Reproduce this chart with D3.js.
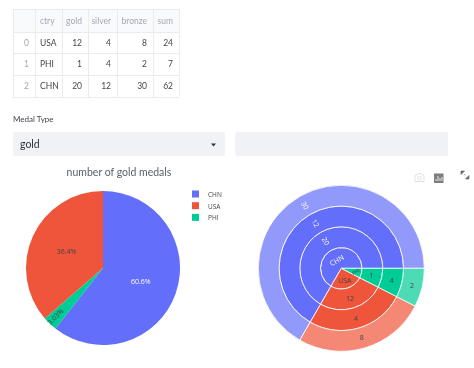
<!DOCTYPE html>
<html>
<head>
<meta charset="utf-8">
<script src="https://cdn.jsdelivr.net/npm/d3@7/dist/d3.min.js"></script>
<style>
  html, body { margin: 0; padding: 0; background: #fff; }
  svg { display: block; filter: blur(0.35px); }
  text { font-family: Lato, sans-serif; }
  .plotly text { font-family: "Open Sans", sans-serif; }
</style>
</head>
<body>
<div id="chart"></div>
<script>
  // table data
  const columns = ['', 'ctry', 'gold', 'silver', 'bronze', 'sum'];
  const rowIndex = [0, 1, 2];
  const countries = ['USA', 'PHI', 'CHN'];
  const gold = [12, 1, 20];
  const silver = [4, 4, 12];
  const bronze = [8, 2, 30];
  const sum = [24, 7, 62];

  // drawing order of the charts
  const pieOrder = ['CHN', 'PHI', 'USA'];
  const legendOrder = ['CHN', 'USA', 'PHI'];
  const sunburstOrder = ['CHN', 'USA', 'PHI'];
  const pieLabels = ['60.6%', '3.03%', '36.4%'];

  const color = d3.scaleOrdinal()
    .domain(['CHN', 'USA', 'PHI'])
    .range(['#636efa', '#ef553b', '#00cc96']);

  const svg = d3.select('#chart').append('svg')
    .attr('width', 474)
    .attr('height', 368);

  let valueOf = (list, ctry) => list[countries.indexOf(ctry)];

  // table
  let colEdges = [13, 35, 62, 88, 117, 153, 179];
  let rowEdges = [9, 32, 53, 75, 97];
  let table = svg.append('g');

  table.append('rect')
    .attr('x', colEdges[0]).attr('y', rowEdges[0])
    .attr('width', colEdges[6] - colEdges[0]).attr('height', rowEdges[1] - rowEdges[0])
    .attr('fill', '#f9fafb');

  colEdges.forEach((x) => {
    table.append('line').attr('x1', x + 0.5).attr('x2', x + 0.5)
      .attr('y1', rowEdges[0]).attr('y2', rowEdges[4])
      .attr('stroke', '#e9ebef');
  });
  rowEdges.forEach((y) => {
    table.append('line').attr('y1', y + 0.5).attr('y2', y + 0.5)
      .attr('x1', colEdges[0]).attr('x2', colEdges[6])
      .attr('stroke', '#e9ebef');
  });

  columns.forEach((name, i) => {
    if (!name) return;
    table.append('text')
      .attr('x', i === 1 ? colEdges[1] + 5 : colEdges[i + 1] - 6)
      .attr('y', 24)
      .attr('text-anchor', i === 1 ? 'start' : 'end')
      .attr('font-size', 8.5)
      .attr('fill', '#a3a8b4')
      .text(name);
  });

  rowIndex.forEach((idx, r) => {
    let y = (rowEdges[r + 1] + rowEdges[r + 2]) / 2 + 3;
    let cells = [idx, countries[r], gold[r], silver[r], bronze[r], sum[r]];
    cells.forEach((cell, i) => {
      table.append('text')
        .attr('x', i === 1 ? colEdges[1] + 5 : colEdges[i + 1] - 6)
        .attr('y', y)
        .attr('text-anchor', i === 1 ? 'start' : 'end')
        .attr('font-size', 8.5)
        .attr('fill', i === 0 ? '#a3a8b4' : '#44464f')
        .text(cell);
    });
  });

  // select boxes
  svg.append('text')
    .attr('x', 13).attr('y', 122)
    .attr('font-size', 8)
    .attr('fill', '#44464f')
    .text('Medal Type');
  svg.append('rect')
    .attr('x', 13).attr('y', 132).attr('width', 212).attr('height', 24)
    .attr('rx', 2).attr('fill', '#f0f2f6');
  svg.append('rect')
    .attr('x', 235).attr('y', 132).attr('width', 213).attr('height', 24)
    .attr('rx', 2).attr('fill', '#f0f2f6');
  svg.append('text')
    .attr('x', 20).attr('y', 148)
    .attr('font-size', 10.5)
    .attr('fill', '#31333f')
    .text('gold');
  svg.append('path')
    .attr('d', 'M211,143.5h5l-2.5,3z')
    .attr('fill', '#31333f');

  // pie
  let pieCx = 103, pieCy = 268, pieR = 77;
  svg.append('text')
    .attr('x', 119).attr('y', 176)
    .attr('text-anchor', 'middle')
    .attr('font-size', 10.5)
    .attr('fill', '#5a5f6b')
    .text('number of gold medals');

  let pieGroup = svg.append('g')
    .attr('class', 'plotly')
    .attr('transform', 'translate(' + pieCx + ',' + pieCy + ')');
  let pieArc = d3.arc().innerRadius(0).outerRadius(pieR);
  let pieData = d3.pie().sort(null).value((d) => valueOf(gold, d))(pieOrder);

  pieGroup.selectAll('path')
    .data(pieData)
    .enter()
    .append('path')
    .attr('d', pieArc)
    .attr('fill', (d) => color(d.data));

  pieGroup.selectAll('text')
    .data(pieData)
    .enter()
    .append('text')
    .attr('text-anchor', 'middle')
    .attr('font-size', 7)
    .attr('fill', (d) => d.data === 'CHN' ? '#fff' : '#444')
    .attr('transform', (d) => {
      let mid = (d.startAngle + d.endAngle) / 2;
      let r = d.data === 'PHI' ? pieR * 0.86 : pieR * 0.52;
      let turn = d.data === 'PHI' ? -46 : 0;
      return 'translate(' + (Math.sin(mid) * r) + ',' + (-Math.cos(mid) * r + 2.5) + ') rotate(' + turn + ')';
    })
    .text((d, i) => pieLabels[i]);

  // legend
  let legend = svg.append('g').attr('class', 'plotly').selectAll('g')
    .data(legendOrder)
    .enter()
    .append('g')
    .attr('transform', (d, i) => 'translate(192,' + (190.5 + i * 11.7) + ')');
  legend.append('rect')
    .attr('width', 7).attr('height', 7)
    .attr('fill', (d) => color(d));
  legend.append('text')
    .attr('x', 16).attr('y', 6.5)
    .attr('font-size', 6.5)
    .attr('fill', '#444')
    .text((d) => d);

  // sunburst
  let sunCx = 341.3, sunCy = 268.3;
  let rings = [countries, gold, silver, bronze];
  let radius = d3.scaleLinear().domain([0, rings.length]).range([0, 83]);
  let sunAngles = d3.pie()
    .sort(null)
    .value((d) => valueOf(sum, d))
    .startAngle(Math.PI / 2)
    .endAngle(Math.PI / 2 - 2 * Math.PI)(sunburstOrder);

  let sunGroup = svg.append('g')
    .attr('class', 'plotly')
    .attr('transform', 'translate(' + sunCx + ',' + sunCy + ')');

  let inner_r = {CHN: 9, USA: 12.5, PHI: 15};
  let turns = {CHN: [-30, 60, 60, 60], USA: [0, 0, 0, 0], PHI: [-30, 0, 0, 0]};

  rings.forEach((list, ring) => {
    let arc = d3.arc()
      .innerRadius(radius(ring))
      .outerRadius(radius(ring + 1));

    sunGroup.selectAll('path.ring' + ring)
      .data(sunAngles)
      .enter()
      .append('path')
      .attr('class', 'ring' + ring)
      .attr('d', arc)
      .attr('fill', (d) => color(d.data))
      .attr('fill-opacity', ring === rings.length - 1 ? 0.7 : 1)
      .attr('stroke', '#fff')
      .attr('stroke-width', 0.8);
  });

  rings.forEach((list, ring) => {
    sunGroup.selectAll('text.ring' + ring)
      .data(sunAngles)
      .enter()
      .append('text')
      .attr('class', 'ring' + ring)
      .attr('text-anchor', 'middle')
      .attr('dy', '0.35em')
      .attr('font-size', (d) => ring === 0 && d.data === 'PHI' ? 5 : 7)
      .attr('fill', (d) => d.data === 'CHN' ? '#fff' : '#444')
      .attr('transform', (d) => {
        let mid = (d.startAngle + d.endAngle) / 2;
        let r = ring === 0 ? inner_r[d.data] : (radius(ring) + radius(ring + 1)) / 2;
        return 'translate(' + (Math.sin(mid) * r) + ',' + (-Math.cos(mid) * r) + ') rotate(' + turns[d.data][ring] + ')';
      })
      .text((d) => valueOf(list, d.data));
  });

  // modebar icons
  let modebar = svg.append('g');
  modebar.append('path')
    .attr('d', 'M415,175h2l1,-1.500h3l1,1.500h2v6.500h-9z')
    .attr('fill', 'none').attr('stroke', '#dfe1e4');
  modebar.append('circle')
    .attr('cx', 419.500).attr('cy', 178).attr('r', 1.800)
    .attr('fill', 'none').attr('stroke', '#dfe1e4');
  modebar.append('rect')
    .attr('x', 434).attr('y', 173.500).attr('width', 9.500).attr('height', 9.500)
    .attr('fill', '#7b7d80');
  modebar.append('path')
    .attr('d', 'M436,181v-2M438,181v-5M440,181v-3M442,181v-4')
    .attr('stroke', '#e6e6e6').attr('fill', 'none');
  modebar.append('path')
    .attr('d', 'M461,171h3.500l-3.500,3.500zM469,179h-3.500l3.500,-3.500zM464,174l1.500,1.500')
    .attr('fill', '#666').attr('stroke', '#666').attr('stroke-width', 0.6);
</script>
</body>
</html>
